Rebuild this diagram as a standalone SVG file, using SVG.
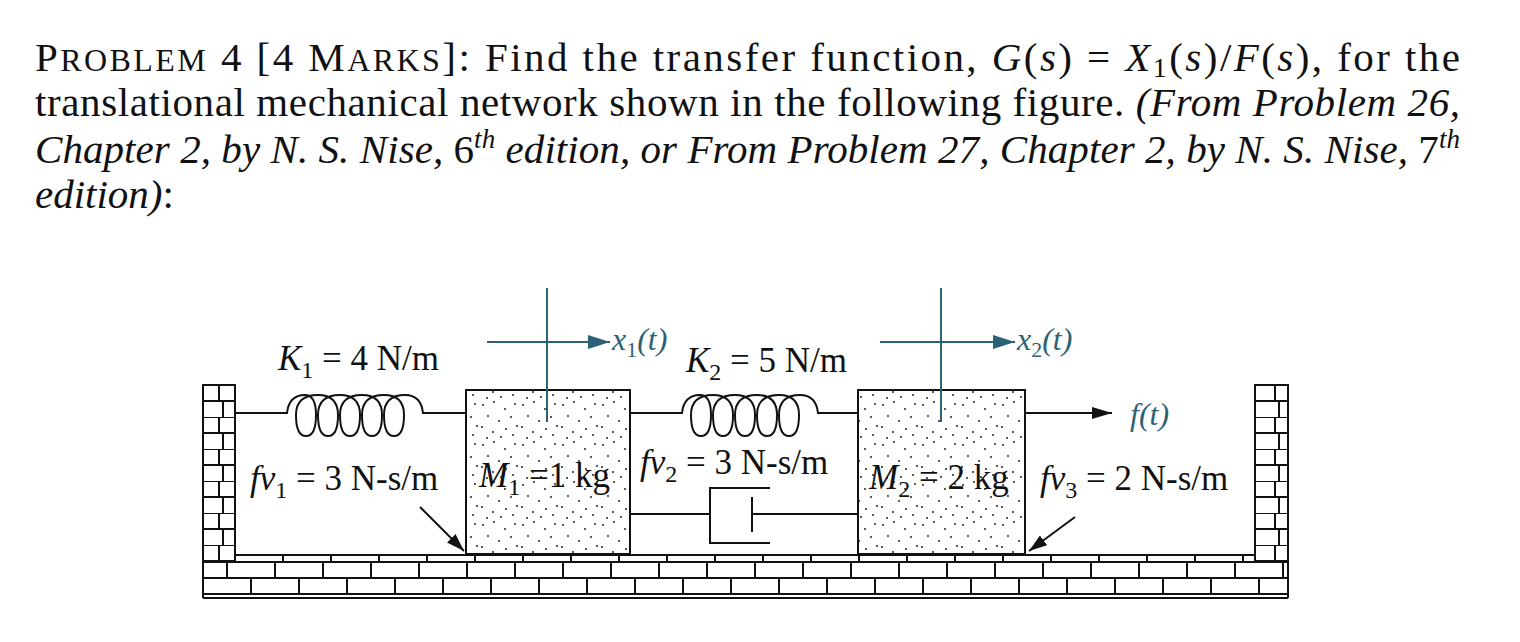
<svg xmlns="http://www.w3.org/2000/svg" width="1520" height="642" viewBox="0 0 1520 642">
<style>
.t{font-family:"Liberation Serif",serif;font-size:41px;fill:#111}
.l{font-family:"Liberation Serif",serif;font-size:35px;fill:#111}
.ln{stroke:#111;stroke-width:2;fill:none}
.tl{stroke:#2c6275;stroke-width:2;fill:none}
.tt{font-family:"Liberation Serif",serif;font-size:32px;fill:#2c6275;font-style:italic}
</style>
<defs>
<pattern id="dots" width="40" height="40" patternUnits="userSpaceOnUse">
<g fill="#222"><circle cx="3" cy="5" r="1"/><circle cx="14" cy="2" r="1"/><circle cx="25" cy="9" r="1"/><circle cx="35" cy="4" r="1"/><circle cx="8" cy="16" r="1"/><circle cx="19" cy="21" r="1"/><circle cx="31" cy="17" r="1"/><circle cx="2" cy="27" r="1"/><circle cx="13" cy="32" r="1"/><circle cx="26" cy="29" r="1"/><circle cx="37" cy="26" r="1"/><circle cx="7" cy="38" r="1"/><circle cx="21" cy="37" r="1"/><circle cx="33" cy="35" r="1"/></g>
</pattern>
<pattern id="brickH" x="203" y="562" width="48" height="32" patternUnits="userSpaceOnUse">
<rect width="48" height="32" fill="#fff"/>
<path d="M0,0H48M0,16H48M0,32H48M24,0V16M0,16V32M48,16V32" stroke="#111" stroke-width="2" fill="none"/>
</pattern>
<pattern id="brickV" x="203" y="385" width="32" height="32" patternUnits="userSpaceOnUse">
<rect width="32" height="32" fill="#fff"/>
<path d="M0,0H32M0,16H32M16,0V16M20,16V32" stroke="#111" stroke-width="2" fill="none"/>
</pattern>
<marker id="ab" markerWidth="20" markerHeight="12" refX="20" refY="6" orient="auto" markerUnits="userSpaceOnUse"><path d="M0,0L20,6L0,12Z" fill="#111"/></marker>
<marker id="ak" markerWidth="18" markerHeight="12" refX="18" refY="6" orient="auto" markerUnits="userSpaceOnUse"><path d="M0,0L18,6L0,12Z" fill="#111"/></marker>
<marker id="at" markerWidth="22" markerHeight="14" refX="22" refY="7" orient="auto" markerUnits="userSpaceOnUse"><path d="M0,0L22,7L0,14Z" fill="#2c6275"/></marker>
</defs>
<rect width="1520" height="642" fill="#fff"/>
<g id="heading">
<text class="t" x="35" y="71" textLength="1425" lengthAdjust="spacing">P<tspan font-size="32">ROBLEM</tspan> 4 [4 M<tspan font-size="32">ARKS</tspan>]: Find the transfer function, <tspan font-style="italic">G</tspan>(<tspan font-style="italic">s</tspan>)  =  <tspan font-style="italic">X</tspan><tspan font-size="28" dy="6">1</tspan><tspan dy="-6">(</tspan><tspan font-style="italic">s</tspan>)/<tspan font-style="italic">F</tspan>(<tspan font-style="italic">s</tspan>), for the</text>
<text class="t" x="35" y="116" textLength="1425" lengthAdjust="spacing">translational mechanical network shown in the following figure. <tspan font-style="italic">(From Problem 26,</tspan></text>
<text class="t" x="35" y="163" textLength="1425" lengthAdjust="spacing" font-style="italic">Chapter 2, by N. S. Nise, <tspan font-style="normal">6</tspan><tspan font-size="27" dy="-15">th</tspan><tspan dy="15"> edition, or From Problem 27, Chapter 2, by N. S. Nise, </tspan><tspan font-style="normal">7</tspan><tspan font-size="27" dy="-15">th</tspan></text>
<text class="t" x="35" y="208" font-style="italic">edition)<tspan font-style="normal">:</tspan></text>
</g>
<g id="ground">
<rect x="203" y="562" width="1085" height="32" fill="url(#brickH)" stroke="#111" stroke-width="2"/>
<path class="ln" d="M235,555H1255M203,598H1288M203,594V598M1288,594V598M235,555V562M283,555V562M331,555V562M379,555V562M427,555V562M475,555V562M523,555V562M571,555V562M619,555V562M667,555V562M715,555V562M763,555V562M811,555V562M859,555V562M907,555V562M955,555V562M1003,555V562M1051,555V562M1099,555V562M1147,555V562M1195,555V562M1243,555V562"/>
<rect x="203" y="385" width="32" height="177" fill="url(#brickV)" stroke="#111" stroke-width="2"/>
<rect x="1255" y="385" width="33" height="177" fill="url(#brickV)" stroke="#111" stroke-width="2"/>
</g>
<g id="M1">
<rect x="466" y="390" width="164" height="164" fill="url(#dots)" stroke="#111" stroke-width="2"/>
<text class="l" x="479" y="487" font-style="italic">M<tspan font-size="24" dy="8" font-style="normal">1</tspan><tspan dy="-8" font-style="normal"> =1 kg</tspan></text>
</g>
<g id="M2">
<rect x="858" y="390" width="167" height="164" fill="url(#dots)" stroke="#111" stroke-width="2"/>
<text class="l" x="869" y="489" font-style="italic">M<tspan font-size="24" dy="8" font-style="normal">2</tspan><tspan dy="-8" font-style="normal"> = 2 kg</tspan></text>
</g>
<g id="connectors">
<path class="ln" d="M235,413H287Q289,395 305,395Q316,395 316,415Q316,436 306,436Q296,436 296,415Q296,395 318,395Q338,395 338,415Q338,436 328,436Q318,436 318,415Q318,395 340,395Q360,395 360,415Q360,436 350,436Q340,436 340,415Q340,395 362,395Q382,395 382,415Q382,436 372,436Q362,436 362,415Q362,395 384,395Q404,395 404,415Q404,436 394,436Q384,436 384,415Q384,395 405,395Q421,395 423,413H466"/>
<path class="ln" d="M630,413H682Q684,395 700,395Q711,395 711,415Q711,436 701,436Q691,436 691,415Q691,395 713,395Q733,395 733,415Q733,436 723,436Q713,436 713,415Q713,395 735,395Q755,395 755,415Q755,436 745,436Q735,436 735,415Q735,395 757,395Q777,395 777,415Q777,436 767,436Q757,436 757,415Q757,395 779,395Q799,395 799,415Q799,436 789,436Q779,436 779,415Q779,395 800,395Q816,395 818,413H858"/>
<path class="ln" d="M630,514H710M770,488H710V543H770M752,497V532M752,514H858"/>
<path class="ln" d="M1025,413H1112" marker-end="url(#ab)"/>
<path class="ln" d="M420,507L464,551" marker-end="url(#ak)"/>
<path class="ln" d="M1075,517L1029,551" marker-end="url(#ak)"/>
<path class="tl" d="M547,288V422M487,342H610" marker-end="url(#at)"/>
<path class="tl" d="M941,288V422M880,342H1015" marker-end="url(#at)"/>
</g>
<g id="labels">
<text class="l" x="278" y="370"><tspan font-style="italic">K</tspan><tspan font-size="24" dy="8">1</tspan><tspan dy="-8"> = 4 N/m</tspan></text>
<text class="l" x="686" y="372"><tspan font-style="italic">K</tspan><tspan font-size="24" dy="8">2</tspan><tspan dy="-8"> = 5 N/m</tspan></text>
<text class="l" x="250" y="490"><tspan font-style="italic">fv</tspan><tspan font-size="24" dy="8">1</tspan><tspan dy="-8"> = 3 N-s/m</tspan></text>
<text class="l" x="640" y="474"><tspan font-style="italic">fv</tspan><tspan font-size="24" dy="8">2</tspan><tspan dy="-8"> = 3 N-s/m</tspan></text>
<text class="l" x="1040" y="490"><tspan font-style="italic">fv</tspan><tspan font-size="24" dy="8">3</tspan><tspan dy="-8"> =  2 N-s/m</tspan></text>
<text class="tt" x="612" y="350">x<tspan font-size="22" dy="7" font-style="normal">1</tspan><tspan dy="-7">(t)</tspan></text>
<text class="tt" x="1017" y="350">x<tspan font-size="22" dy="7" font-style="normal">2</tspan><tspan dy="-7">(t)</tspan></text>
<text class="tt" x="1130" y="425">f(t)</text>
</g>
</svg>
